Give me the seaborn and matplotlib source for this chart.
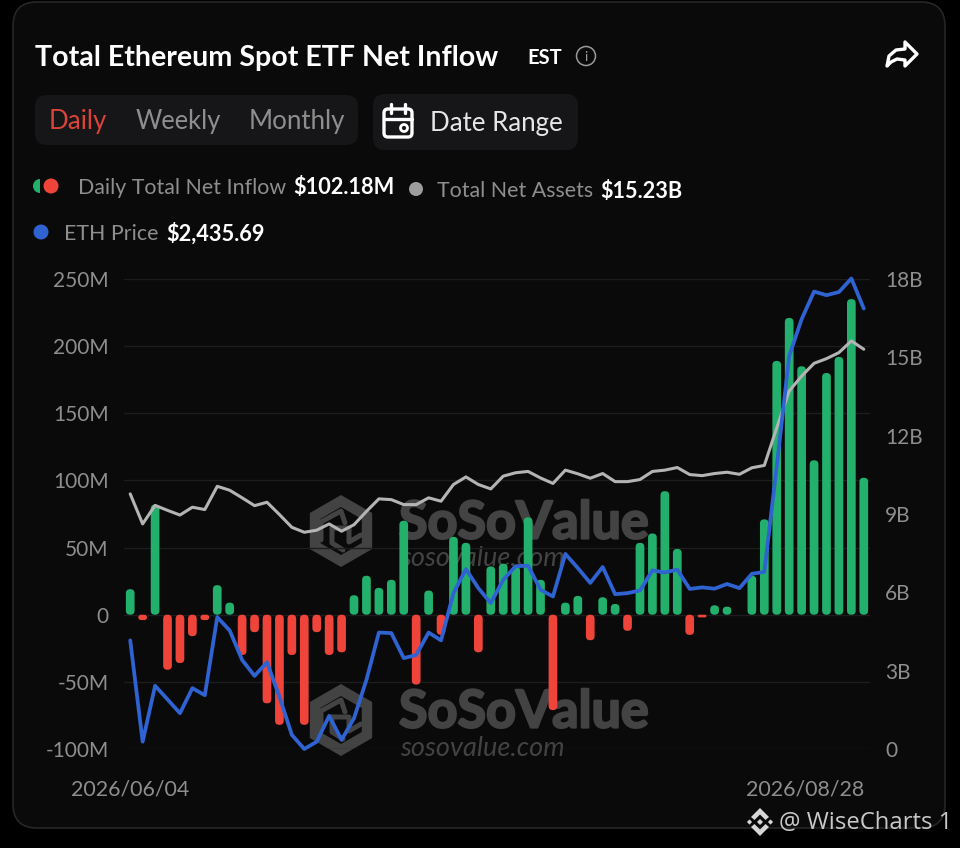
import numpy as np
import pandas as pd
import seaborn as sns
import matplotlib.pyplot as plt
import matplotlib.patheffects as pe
from matplotlib.patches import FancyBboxPatch, Circle, Polygon, Wedge

# daily net inflow, $M
inflow = [19, -4, 82, -41, -36, -16, -4, 22, 9, -30, -13, -66, -82, -30, -82, -13, -30, -28, 14.5, 29,
          20, 26, 70, -52, 18, -15, 58, 53.5, -28, 36, 38, 36, 72.5, 26, -71, 9, 14, -19, 13, 8,
          -12, 53.5, 60.5, 92, 49, -15, -2, 7, 6, 0, 29, 71, 189, 221, 185, 115, 180, 192, 235, 102]
# total net assets, $B
assets = [9.77, 8.62, 9.33, 9.14, 8.96, 9.26, 9.17, 10.06, 9.91, 9.62, 9.32, 9.45, 8.98, 8.49, 8.3, 8.38, 8.62, 8.34, 8.59, 9.1,
          9.58, 9.55, 9.36, 9.36, 9.62, 9.49, 10.13, 10.42, 10.13, 9.96, 10.45, 10.58, 10.63, 10.38, 10.17, 10.68, 10.54, 10.37, 10.55, 10.24,
          10.24, 10.32, 10.63, 10.68, 10.78, 10.51, 10.47, 10.55, 10.6, 10.52, 10.77, 10.86, 12.3, 13.71, 14.28, 14.77, 14.95, 15.18, 15.63, 15.31]
# eth price as it sits against the right hand scale
eth = [4.16, 0.28, 2.42, 1.9, 1.37, 2.33, 2.06, 5.05, 4.54, 3.41, 2.8, 3.32, 2.0, 0.54, 0.0, 0.28, 1.27, 0.35, 1.18, 2.65,
       4.46, 4.44, 3.48, 3.6, 4.46, 4.16, 5.97, 6.89, 6.16, 5.59, 6.48, 7.0, 7.02, 6.1, 5.84, 7.47, 6.93, 6.36, 6.97, 5.93,
       5.97, 6.07, 6.84, 6.76, 6.87, 6.13, 6.19, 6.14, 6.32, 6.16, 6.71, 6.78, 10.83, 15.05, 16.46, 17.52, 17.38, 17.5, 18.02, 16.87]
date_labels = ['2026/06/04', '2026/08/28']
left_ticks = [-100, -50, 0, 50, 100, 150, 200, 250]
right_ticks = [0, 3, 6, 9, 12, 15, 18]

GREEN = '#23b06c'
RED = '#ee4439'
BLUE = '#2f63d2'
GRAY = '#b4b4b4'
BG = '#0a0a0b'
FG = '#8e8e8e'
MARK = '#434343'

sns.set_theme(style='dark')
plt.rcParams['font.family'] = ['Lato', 'DejaVu Sans']

df = pd.DataFrame({'day': range(len(inflow)), 'inflow': inflow, 'assets': assets, 'eth': eth})
df['side'] = np.where(df['inflow'] < 0, 'out', 'in')

fig = plt.figure(figsize=(9.6, 8.48), dpi=100, facecolor='#000000')

# everything that is not data lives on a full size axes in pixel units
ui = fig.add_axes([0, 0, 1, 1], zorder=0)
ui.set_xlim(0, 960)
ui.set_ylim(848, 0)
ui.axis('off')


def box(x0, y0, x1, y1, r, fc, ec='none', lw=0):
    ui.add_patch(FancyBboxPatch((x0, y0), x1 - x0, y1 - y0, boxstyle=f'round,pad=0,rounding_size={r}',
                                fc=fc, ec=ec, lw=lw))


def label(x, y, s, size, color='white', weight='normal', **kw):
    return ui.text(x, y, s, fontsize=size, color=color, fontweight=weight, va='center',
                   ha=kw.pop('ha', 'left'), **kw)


def logo(cx, cy):
    R = 36
    ang = np.radians(np.arange(30, 390, 60))
    ui.add_patch(Polygon(np.c_[cx + R * np.cos(ang), cy + R * np.sin(ang)], fc=MARK, ec='none'))
    r2 = 24
    ui.add_patch(Polygon(np.c_[cx + r2 * np.cos(ang), cy + r2 * np.sin(ang)], fc=BG, ec='none'))
    ui.plot([cx - 20, cx - 20, cx, cx + 4], [cy + 9, cy - 9, cy - 20, cy - 8], color=MARK, lw=3.6)
    ui.plot([cx - 9, cx + 8, cx + 8, cx + 20], [cy - 3, cy - 3, cy + 11, cy + 4], color=MARK, lw=3.6)
    ui.plot([cx - 9, cx - 9, cx + 2], [cy - 3, cy + 12, cy + 19], color=MARK, lw=3.6)


def watermark(cy):
    logo(341, cy)
    t = label(399, cy - 7, 'SoSoValue', 37.5, color=MARK, weight='bold')
    t.set_path_effects([pe.withStroke(linewidth=1.6, foreground=MARK)])
    label(400, cy + 28, 'sosovalue.com', 19.5, color=MARK, style='italic')


box(13, 2, 945, 828, 24, BG, ec='#26262a', lw=1.2)

label(35, 58, 'Total Ethereum Spot ETF Net Inflow', 20.6, weight='bold')
label(527, 58, 'EST', 14.5, weight='bold')
ui.add_patch(Circle((586, 56), 9.5, fc='none', ec='#9a9a9a', lw=1.1))
label(586, 57, 'i', 10, color='#9a9a9a', ha='center')

# share arrow
ui.add_patch(Polygon([(887, 66), (889, 56), (896, 50), (905, 49), (905, 42), (917, 54), (905, 66), (905, 60),
                      (897, 59), (891, 62)], closed=True, fc='none', ec='white', lw=2.4, joinstyle='round'))

box(35, 95, 358, 145, 12, '#161618')
label(49, 122, 'Daily', 18.6, color='#d9443a')
label(136, 122, 'Weekly', 18.4, color=FG)
label(249, 122, 'Monthly', 18.6, color=FG)
box(373, 94, 578, 150, 12, '#161618')
box(384, 109, 412, 137, 4, 'none', ec='white', lw=2.4)
ui.plot([384, 412], [119, 119], color='white', lw=2.4)
ui.plot([391, 391], [104, 113], color='white', lw=2.4)
ui.plot([405, 405], [104, 113], color='white', lw=2.4)
ui.add_patch(Circle((404, 128), 3.5, fc='none', ec='white', lw=2))
label(430, 124, 'Date Range', 18.6, color='#e6e6e6')

# legend row, half discs for the up and down colours
ui.add_patch(Wedge((40, 186), 7, 90, 270, fc=GREEN, ec='none'))
ui.add_patch(Circle((51, 186), 7.5, fc=RED, ec='none'))
label(78, 188, 'Daily Total Net Inflow', 15.4, color=FG)
label(293, 188, '$102.18M', 15.7, weight='bold')
ui.add_patch(Circle((416, 189), 7, fc='#9d9d9d', ec='none'))
label(437, 191, 'Total Net Assets', 15.4, color=FG)
label(600, 191, '$15.23B', 15.6, weight='bold')
ui.add_patch(Circle((41, 232), 7.5, fc=BLUE, ec='none'))
label(64, 234, 'ETH Price', 15.4, color=FG)
label(166, 234, '$2,435.69', 15.7, weight='bold')

watermark(531)
watermark(720)

ax = fig.add_axes([124 / 960, 1 - 749 / 848, 746 / 960, 470 / 848], zorder=1)
ax.patch.set_alpha(0)
sns.barplot(data=df, x='day', y='inflow', hue='side', palette={'in': GREEN, 'out': RED}, dodge=False,
            width=0.7, saturation=1, legend=False, ax=ax)
ax.set_xlim(-0.5, len(inflow) - 0.5)
ax.set_ylim(left_ticks[0], left_ticks[-1])

# round the corners of the bars seaborn drew
aspect = (350 / 470) / (60 / 746)
for bar in list(ax.patches):
    h = bar.get_height()
    if h == 0:
        bar.remove()
        continue
    y0 = min(bar.get_y(), bar.get_y() + h)
    r = min(0.33, abs(h) / 2 / aspect)
    ax.add_patch(FancyBboxPatch((bar.get_x(), y0), bar.get_width(), abs(h),
                                boxstyle=f'round,pad=0,rounding_size={r}', mutation_aspect=aspect,
                                fc=bar.get_facecolor(), ec='none', zorder=2))
    bar.remove()

ax.set_yticks(left_ticks, [f'{v}M' if v else '0' for v in left_ticks])
ax.set_xticks([0, len(inflow) - 1], date_labels)
ax.get_xticklabels()[1].set_ha('right')
ax.set_xlabel('')
ax.set_ylabel('')
ax.grid(axis='y', color='#1d1d1f', lw=1)
ax.grid(axis='x', visible=False)
ax.set_axisbelow(True)
ax.tick_params(axis='y', length=0, labelsize=15, labelcolor=FG, pad=11)
ax.tick_params(axis='x', length=0, labelsize=15.4, labelcolor=FG, pad=22)
for s in ax.spines.values():
    s.set_visible(False)

ax2 = ax.twinx()
ax2.set_zorder(2)
sns.lineplot(data=df, x='day', y='assets', color=GRAY, linewidth=2.2, clip_on=False, ax=ax2)
sns.lineplot(data=df, x='day', y='eth', color=BLUE, linewidth=2.7, clip_on=False, ax=ax2)
ax2.set_ylim(right_ticks[0], right_ticks[-1])
ax2.set_yticks(right_ticks, [f'{v}B' if v else '0' for v in right_ticks])
ax2.set_ylabel('')
ax2.grid(False)
ax2.tick_params(axis='y', length=0, labelsize=15, labelcolor=FG, pad=11)
for s in ax2.spines.values():
    s.set_visible(False)

# footer credit sits on top of the card
over = fig.add_axes([0, 0, 1, 1], zorder=3)
over.set_xlim(0, 960)
over.set_ylim(848, 0)
over.axis('off')
ICON = '#d6d6d6'
cx, cy = 760, 822
for sign in (-1, 1):
    over.add_patch(Polygon([(cx - 9, cy + sign * 5), (cx, cy + sign * 14), (cx + 9, cy + sign * 5), (cx + 5.5, cy + sign * 2),
                            (cx, cy + sign * 7.5), (cx - 5.5, cy + sign * 2)], fc=ICON, ec='none'))
for dx, d in [(-10.5, 2.6), (0, 3), (10.5, 2.6)]:
    over.add_patch(Polygon([(cx + dx - d, cy), (cx + dx, cy - d), (cx + dx + d, cy), (cx + dx, cy + d)], fc=ICON, ec='none'))
over.text(779, 823, '@ WiseCharts 1', fontsize=17.2, color='#c8c8c8', va='center', family=['Open Sans', 'DejaVu Sans'])

fig.savefig('out.png', dpi=100, facecolor=fig.get_facecolor())
